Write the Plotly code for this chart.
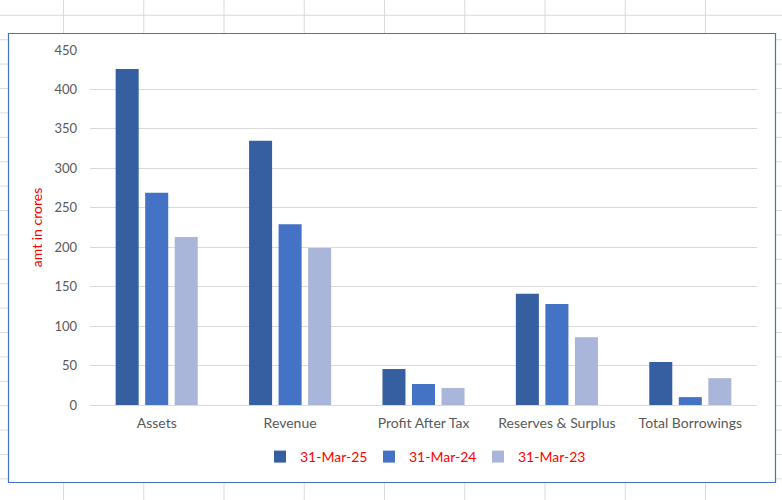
import plotly.graph_objects as go

categories = ["Assets", "Revenue", "Profit After Tax", "Reserves & Surplus", "Total Borrowings"]
series_names = ["31-Mar-25", "31-Mar-24", "31-Mar-23"]
mar25 = [426, 335, 45.6, 141, 54.5]
mar24 = [269, 229, 26.6, 128, 10]
mar23 = [213, 199, 21.5, 86, 34]
y_ticks = [0, 50, 100, 150, 200, 250, 300, 350, 400, 450]

colors = ["#365FA2", "#4472C4", "#A9B6DA"]

W, H = 782, 500
L, R, T, B = 90, 25, 50, 95
pw, ph = W - L - R, H - T - B

def px(x):
    return (x - L) / pw

def py(y):
    return (H - B - y) / ph

fig = go.Figure()
for name, vals, c in zip(series_names, [mar25, mar24, mar23], colors):
    fig.add_trace(go.Bar(x=categories, y=vals, name=name, marker_color=c,
                         marker_line_width=0))

shapes = []
grid_col = "#DADADA"
# spreadsheet gridlines (background)
col_x = [63.5 + 80.25 * k for k in range(10)]
row_y = [15.3 + 24.4 * k for k in range(21)]
for x in col_x:
    shapes.append(dict(type="line", xref="paper", yref="paper", x0=px(x), x1=px(x),
                       y0=py(-2), y1=py(H + 2), line=dict(color=grid_col, width=1), layer="below"))
for y in row_y:
    shapes.append(dict(type="line", xref="paper", yref="paper", x0=px(-2), x1=px(W + 2),
                       y0=py(y), y1=py(y), line=dict(color=grid_col, width=1), layer="below"))
# chart area
shapes.append(dict(type="rect", xref="paper", yref="paper", x0=px(8.5), x1=px(775.5),
                   y0=py(482.5), y1=py(33.5), fillcolor="white",
                   line=dict(color="#4472C4", width=1.2), layer="below"))

fig.update_layout(
    width=W, height=H,
    margin=dict(l=L, r=R, t=T, b=B, pad=0),
    paper_bgcolor="white", plot_bgcolor="rgba(0,0,0,0)",
    barmode="group", bargap=0.336, bargroupgap=0.22,
    shapes=shapes,
    font=dict(family="Lato", size=13, color="#595959"),
    showlegend=True,
    legend=dict(orientation="h", x=0.5, xanchor="center", y=py(457), yanchor="middle",
                font=dict(color="#FF0000", size=14, family="Lato"),
                itemwidth=30, entrywidth=64, entrywidthmode="pixels",
                bgcolor="rgba(0,0,0,0)", traceorder="normal"),
    xaxis=dict(showgrid=False, showline=False, ticks="", tickfont=dict(size=14, color="#595959"),
               ticklabelstandoff=8),
    yaxis=dict(range=[0, 450], tickvals=y_ticks, showgrid=True, gridcolor="#D9D9D9", gridwidth=1,
               zeroline=True, zerolinecolor="#D9D9D9", zerolinewidth=1, showline=False,
               ticks="", tickfont=dict(size=13, color="#595959"), ticklabelstandoff=12,
               title=dict(text="amt in crores", font=dict(color="#FF0000", size=14, family="Lato"),
                          standoff=8)),
)

fig.write_html("out.html", config={"displayModeBar": False},
               post_script="document.body.style.margin='0';")
